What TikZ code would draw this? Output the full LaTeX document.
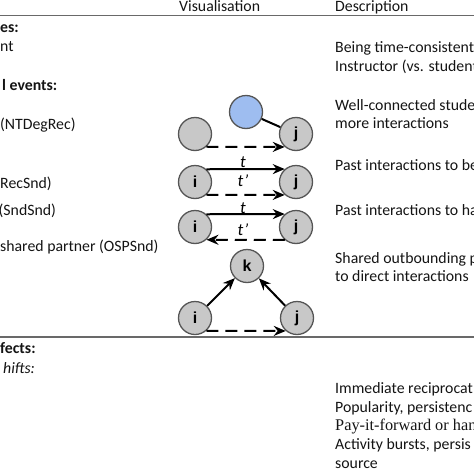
\documentclass[tikz,border=0pt]{standalone}
\usepackage{fontspec}
\setmainfont{Carlito}
\newfontfamily\serifft{Liberation Serif}
\newfontfamily\circfont{Liberation Sans}
\usetikzlibrary{arrows.meta}
\definecolor{nodegray}{RGB}{200,200,200}
\definecolor{nodeborder}{RGB}{85,85,85}
\definecolor{nodeblue}{RGB}{158,189,240}
\definecolor{rulegray}{RGB}{105,105,105}
\definecolor{txtcol}{RGB}{20,20,20}
\begin{document}
\begin{tikzpicture}[x=1pt,y=-1pt,
  txt/.style={anchor=base west, inner sep=0pt, text=txtcol, font=\fontsize{15.8}{18}\selectfont},
  btxt/.style={txt, font=\fontsize{15.8}{18}\selectfont\bfseries},
  itxt/.style={txt, font=\fontsize{15.8}{18}\selectfont\itshape},
  stxt/.style={txt, font=\serifft\fontsize{16.3}{18}\selectfont},
  actor/.style={circle, draw=nodeborder, line width=1.3pt, fill=nodegray,
    minimum size=33pt, inner sep=0pt, font=\circfont\bfseries\fontsize{16}{16}\selectfont},
  blueactor/.style={actor, fill=nodeblue},
  tie/.style={line width=2pt, draw=black, -{Stealth[length=12pt,width=10pt,inset=4pt]}},
  dashtie/.style={tie, dash pattern=on 12pt off 7pt},
  plainline/.style={line width=2pt, draw=black},
  tlab/.style={inner sep=0pt, font=\fontsize{17}{17}\selectfont\itshape},
  tablerule/.style={draw=rulegray, line width=1.2pt}
]
\useasboundingbox (0,0) rectangle (474,474);
\clip (0,0) rectangle (474,474);

% rules
\coordinate (r1l) at (0,15.5);
\coordinate (r1r) at (474,15.5);
\coordinate (r2l) at (0,337);
\coordinate (r2r) at (474,337);
\draw[tablerule] (r1l) -- (r1r);
\draw[tablerule] (r2l) -- (r2r);

% header
\node[txt] (hvis) at (179,11) {Visualisation};
\node[txt] (hdesc) at (335,11) {Description};

% left column
\node[btxt] (l1) at (0,32) {es:};
\node[txt] (l2) at (0,51) {nt};
\node[btxt] (l3) at (2,90) {l events:};
\node[txt] (l4) at (0,129) {(NTDegRec)};
\node[txt] (l5) at (0,188) {RecSnd)};
\node[txt] (l6) at (-1.5,215) {(SndSnd)};
\node[txt] (l7) at (0,251) {shared partner (OSPSnd)};
\node[btxt] (l8) at (0,353) {fects:};
\node[itxt] (l9) at (3,373) {hifts:};

% description column
\node[txt] (d1) at (335,52) {Being time-consistent};
\node[txt] (d2) at (335,71) {Instructor (vs. student};
\node[txt] (d3) at (335,110) {Well-connected stude};
\node[txt] (d4) at (335,128) {more interactions};
\node[txt] (d5) at (335,170) {Past interactions to be};
\node[txt] (d6) at (335,215) {Past interactions to ha};
\node[txt] (d7) at (335,263) {Shared outbounding p};
\node[txt] (d8) at (335,281) {to direct interactions};
\node[txt] (d9) at (335,393) {Immediate reciprocat};
\node[txt] (d10) at (335,412) {Popularity, persistenc};
\node[stxt] (d11) at (335,430) {Pay-it-forward or han};
\node[txt] (d12) at (335,449) {Activity bursts, persis};
\node[txt] (d13) at (335,468) {source};

% NTDegRec
\node[actor] (n1) at (195,134) {};
\node[blueactor] (b1) at (246,112) {};
\node[actor] (j1) at (296,134) {j};
\draw[plainline] (b1) -- (j1);
\draw[dashtie] (n1.-48.6) -- (j1.-131.4);

% RecSnd
\node[actor] (i2) at (195,182) {i};
\node[actor] (j2) at (296,182) {j};
\draw[tie] (i2.48.6) -- (j2.131.4);
\draw[dashtie] (i2.-48.6) -- (j2.-131.4);
\node[tlab] (t2) at (243,162) {t};
\node[tlab] (tp2) at (243,181) {t’};

% SndSnd
\node[actor] (i3) at (195,227) {i};
\node[actor] (j3) at (296,227) {j};
\draw[tie] (i3.48.6) -- (j3.131.4);
\draw[dashtie] (j3.-131.4) -- (i3.-48.6);
\node[tlab] (t3) at (243,208) {t};
\node[tlab] (tp3) at (243,230) {t’};

% OSPSnd
\node[actor] (k4) at (247,266) {k};
\node[actor] (i4) at (195,318) {i};
\node[actor] (j4) at (297,318) {j};
\draw[tie] (i4) -- (k4);
\draw[tie] (j4) -- (k4);
\draw[dashtie] (i4.-48.6) -- (j4.-131.4);
\end{tikzpicture}
\end{document}
